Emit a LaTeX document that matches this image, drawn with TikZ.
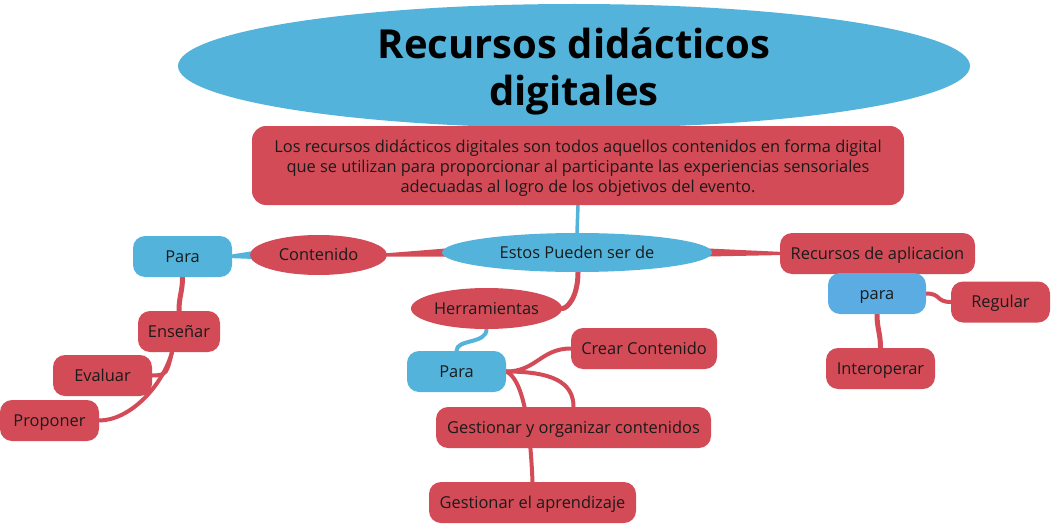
\documentclass[tikz,border=0pt]{standalone}
\usepackage{fontspec}
\setmainfont{Open Sans}
\usetikzlibrary{shapes.geometric,calc}
\definecolor{cblue}{HTML}{53B3DA}
\definecolor{cblue2}{HTML}{5AACE2}
\definecolor{cred}{HTML}{D34B57}
\definecolor{ctext}{HTML}{1A1A1A}
\pgfdeclarelayer{bg}
\pgfsetlayers{bg,main}
\begin{document}
\begin{tikzpicture}[x=1pt,y=-1pt,
  font=\fontsize{16.4}{19}\selectfont,
  rbox/.style={fill=cred, rounded corners=12pt, inner sep=0pt, minimum height=41pt, text=ctext, text height=14pt, text depth=3pt},
  bbox/.style={rbox, fill=cblue},
  rell/.style={ellipse, fill=cred, inner sep=0pt, text=ctext, text height=14pt, text depth=3pt},
  bell/.style={ellipse, fill=cblue, inner sep=0pt, text=ctext, text height=14pt, text depth=3pt},
  conR/.style={draw=cred, line width=4pt, line cap=round},
  conB/.style={draw=cblue, line width=4pt, line cap=round},
  tapR/.style={fill=cred},
  tapB/.style={fill=cblue}]
\path[use as bounding box] (0,0) rectangle (1051,524);
% title
\node[ellipse, fill=cblue, inner sep=0pt, minimum width=792pt, minimum height=124pt] (title) at (574,66) {};
\node[font=\fontsize{40}{47}\selectfont\bfseries, align=center, text=black] (titletext) at (574,71.5) {Recursos didácticos\\digitales};
% description
\node[fill=cred, rounded corners=14pt, inner sep=0pt, minimum width=652pt, minimum height=79pt] (desc) at (578,165.5) {};
\node[align=center, text=ctext, font=\fontsize{16.4}{20}\selectfont] (desctext) at (578,168)
 {Los recursos didácticos digitales son todos aquellos contenidos en forma digital\\que se utilizan para proporcionar al participante las experiencias sensoriales\\adecuadas al logro de los objetivos del evento.};
% center
\node[bell, minimum width=270pt, minimum height=39pt] (estos) at (577,252.5) {Estos Pueden ser de};
% left branch
\node[rell, minimum width=137pt, minimum height=40pt] (cont) at (318.5,255) {Contenido};
\node[bbox, minimum width=99pt] (paraL) at (182.5,256.5) {Para};
\node[rbox, minimum width=82pt] (ens) at (179,331.5) {Enseñar};
\node[rbox, minimum width=99pt] (eval) at (102.5,375.5) {Evaluar};
\node[rbox, minimum width=99pt] (prop) at (49.5,420.5) {Proponer};
% middle branch
\node[rell, minimum width=151pt, minimum height=41pt] (herr) at (486.5,308.5) {Herramientas};
\node[bbox, minimum width=99pt] (paraC) at (456.5,371.5) {Para};
\node[rbox, minimum width=146pt] (crear) at (644,348.5) {Crear Contenido};
\node[rbox, minimum width=275pt] (gest1) at (573.5,427.5) {Gestionar y organizar contenidos};
\node[rbox, minimum width=207pt] (gest2) at (532.5,502.5) {Gestionar el aprendizaje};
% right branch
\node[rbox, minimum width=195pt] (recap) at (877.5,253.5) {Recursos de aplicacion};
\node[bbox, fill=cblue2, minimum width=98pt] (paraR) at (877,293.5) {para};
\node[rbox, minimum width=99pt] (reg) at (1000.5,302) {Regular};
\node[rbox, minimum width=109pt] (inter) at (880.5,368.5) {Interoperar};
% connectors
\begin{pgfonlayer}{bg}
\draw[conB, line width=3.5pt] (desc.south) -- (estos.north);
\fill[tapR] ($(estos.west)+(4,-4)$) -- ($(cont.east)+(-4,-1.5)$) -- ($(cont.east)+(-4,1.5)$) -- ($(estos.west)+(4,4)$) -- cycle;
\fill[tapR] ($(estos.east)+(-4,-4)$) -- ($(recap.west)+(4,-1.5)$) -- ($(recap.west)+(4,1.5)$) -- ($(estos.east)+(-4,4)$) -- cycle;
\fill[tapB] ($(cont.west)+(4,-4)$) -- ($(paraL.east)+(-4,-1.5)$) -- ($(paraL.east)+(-4,1.5)$) -- ($(cont.west)+(4,4)$) -- cycle;
\draw[conR, line width=5pt] (paraL.south) .. controls +(0,15) and +(0,-15) .. (ens.north);
\draw[conR] ($(ens.south)+(-7,0)$) .. controls +(-5,20) and +(15,0) .. (eval.east);
\draw[conR] ($(ens.south)+(-7,0)$) .. controls +(-10,35) and +(30,0) .. (prop.east);
\draw[conR, line width=5pt] ($(estos.south)+(1,0)$) .. controls +(0,25) and +(5,0) .. (herr.east);
\draw[conB] (herr.south) .. controls +(0,15) and +(0,-12) .. (paraC.north);
\draw[conR] (paraC.east) .. controls +(30,0) and +(-30,0) .. (crear.west);
\draw[conR] (paraC.east) .. controls +(45,0) and +(0,-25) .. (gest1.north);
\draw[conR] (paraC.east) .. controls +(18,8) and +(-2,-50) .. (gest2.north);
\draw[conR] (paraR.east) .. controls +(15,0) and +(-15,0) .. (reg.west);
\draw[conR, line width=5pt] (paraR.south) .. controls +(0,15) and +(0,-15) .. (inter.north);
\end{pgfonlayer}
\end{tikzpicture}
\end{document}
